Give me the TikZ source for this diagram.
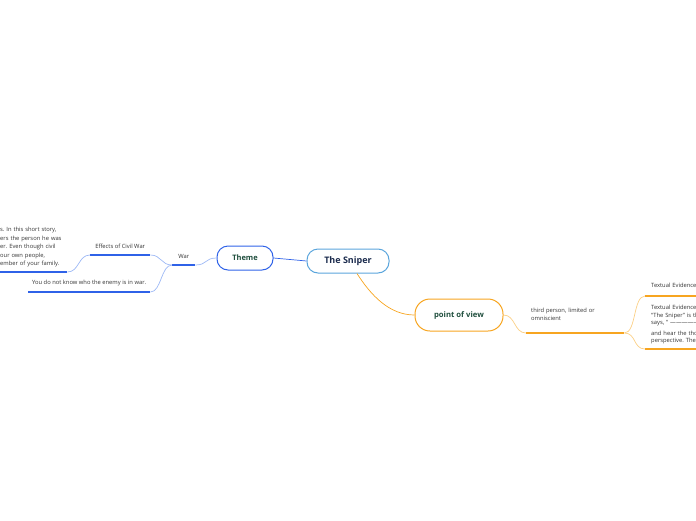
\documentclass[tikz,border=0pt]{standalone}
\usepackage{fontspec}
\setmainfont{Open Sans}
\usetikzlibrary{positioning}
\frenchspacing

\definecolor{rootline}{HTML}{5AA5DC}
\definecolor{rootink}{HTML}{1B2B4D}
\definecolor{themeblue}{HTML}{2F62E8}
\definecolor{themelight}{HTML}{9DB8F5}
\definecolor{povorange}{HTML}{F7A520}
\definecolor{povlight}{HTML}{FBCF85}
\definecolor{topicink}{HTML}{1F4E3D}
\definecolor{leafink}{HTML}{333333}

\begin{document}
\begin{tikzpicture}[x=1pt, y=-1pt,
  root/.style={draw=rootline, line width=1pt, rounded corners=11pt, minimum width=82pt, minimum height=24pt, font=\fontsize{9}{11}\selectfont\bfseries, text=rootink},
  topic/.style={draw=#1, line width=1pt, rounded corners=11pt, minimum height=24pt, font=\fontsize{7.5}{9}\selectfont\bfseries, text=topicink},
  leaf/.style={anchor=south west, inner xsep=5pt, inner ysep=3.5pt, align=left, font=\fontsize{5.8}{8}\selectfont, text=leafink},
  mid/.style={leaf, inner xsep=0pt, align=center},
  uline/.style={line width=1.3pt, draw=#1},
  link/.style={line width=0.7pt, draw=#1}
]
\useasboundingbox (0,0) rectangle (696,520);

\node[root] (sniper) at (348,261) {The Sniper};
\node[topic=themeblue, minimum width=56pt] (theme) at (245,258) {Theme};
\node[topic=povorange, minimum width=88pt, minimum height=32pt, rounded corners=15pt, font=\fontsize{7.7}{9}\selectfont\bfseries] (pov) at (459,315) {point of view};

% theme branch
\node[mid, minimum width=23pt] (war) at (172,265) {War\strut};
\node[mid, minimum width=60pt] (effects) at (90,255) {Effects of Civil War\strut};
\node[mid, minimum width=122pt, inner ysep=4.5pt] (unknown) at (28,292) {You do not know who the enemy is in war.\strut};
\node[leaf, text width=62pt, font=\fontsize{5.8}{8.5}\selectfont] (civil) at (-5,272) {s. In this short story,\\ers the person he was\\er. Even though civil\\our own people,\\ember of your family.\strut};

\draw[uline=themeblue] (war.south west) -- (war.south east);
\draw[uline=themeblue] (effects.south west) -- (effects.south east);
\draw[uline=themeblue] (unknown.south west) -- (unknown.south east);
\draw[uline=themeblue] (civil.south west) -- (civil.south east);

% point of view branch
\node[leaf, text width=88pt, inner ysep=9.6pt] (third) at (526,333) {third person, limited or\\omniscient\strut};
\node[leaf, text width=70pt, inner xsep=6pt, inner ysep=5.5pt] (evidence) at (645,296) {Textual Evidence\strut};
\node[leaf, text width=70pt, inner xsep=6pt, inner ysep=3.8pt, font=\fontsize{5.8}{7.5}\selectfont] (quote) at (645,349) {Textual Evidence\\“The Sniper” is th\\says, “ ————————\\[3pt]and hear the tho\\perspective. The\strut};

\draw[uline=povorange] (third.south west) -- (third.south east);
\draw[uline=povorange] (evidence.south west) -- (evidence.south east);
\draw[uline=povorange] (quote.south west) -- (quote.south east);

% connectors
\draw[link=themeblue] (sniper.west) -- (theme.east);
\draw[link=themelight] (theme.west) .. controls +(-12,0) and +(12,0) .. (war.south east);
\draw[link=themelight] (war.south west) .. controls +(-11,0) and +(11,0) .. (effects.south east);
\draw[link=themelight] (war.south west) .. controls +(-11,0) and +(11,0) .. (unknown.south east);
\draw[link=themelight] (effects.south west) .. controls +(-12,0) and +(12,0) .. (civil.south east);
\draw[link=povorange] ([xshift=9pt]sniper.south) .. controls +(14,22) and +(-25,0) .. (pov.west);
\draw[link=povlight] (pov.east) .. controls +(12,0) and +(-12,0) .. (third.south west);
\draw[link=povlight] (third.south east) .. controls +(12,0) and +(-12,0) .. (evidence.south west);
\draw[link=povlight] (third.south east) .. controls +(12,0) and +(-12,0) .. (quote.south west);

\end{tikzpicture}
\end{document}
